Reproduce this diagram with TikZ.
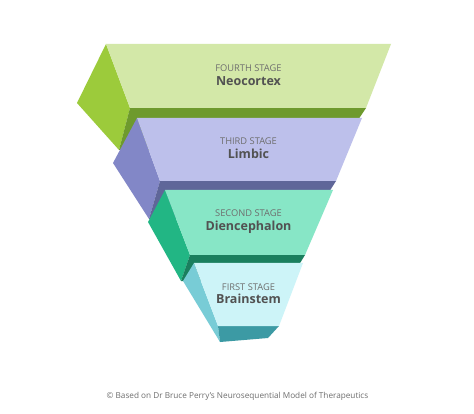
\documentclass[tikz,border=0pt]{standalone}
\usepackage{fontspec}
\setmainfont{Open Sans}
\definecolor{gFront}{HTML}{D3E8A8}
\definecolor{gSide}{HTML}{9CCB3B}
\definecolor{gBot}{HTML}{6E9A2D}
\definecolor{pFront}{HTML}{BDC0EB}
\definecolor{pSide}{HTML}{8287C7}
\definecolor{pBot}{HTML}{5F6699}
\definecolor{tFront}{HTML}{87E6C6}
\definecolor{tSide}{HTML}{22B684}
\definecolor{tBot}{HTML}{1A7F5E}
\definecolor{cFront}{HTML}{CDF4F8}
\definecolor{cSide}{HTML}{78CCD6}
\definecolor{cBot}{HTML}{3C9AA4}
\definecolor{lblGray}{HTML}{6E6E6E}
\definecolor{nameGray}{HTML}{525252}
\begin{document}
\begin{tikzpicture}[x=1pt,y=-1pt,
  stagelbl/.style={font=\fontsize{9.3}{11}\selectfont, text=lblGray, inner sep=0pt},
  stagename/.style={font=\bfseries\fontsize{12.5}{14}\selectfont, text=nameGray, inner sep=0pt},
  credit/.style={font=\fontsize{8.2}{9}\selectfont, text=lblGray, inner sep=0pt}]
\useasboundingbox (0,0) rectangle (474,414);
\fill[white] (0,0) rectangle (474,414);
% fourth stage (green)
\fill[gSide] (106,44) -- (77,103) -- (119,150) -- (130,108) -- cycle;
\fill[gBot] (130,108) -- (366,108) -- (338,150) -- (119,150) -- cycle;
\fill[gFront] (106,44) -- (391,44) -- (366,108) -- (130,108) -- cycle;
% third stage (purple)
\fill[pSide] (137,118) -- (113,163) -- (149,219) -- (160,181) -- cycle;
\fill[pBot] (160,181) -- (336,181) -- (312,219) -- (149,219) -- cycle;
\fill[pFront] (137,118) -- (362,118) -- (336,181) -- (160,181) -- cycle;
% second stage (teal)
\fill[tSide] (165,190) -- (148,222) -- (181,281) -- (190,255) -- cycle;
\fill[tBot] (190,255) -- (305,255) -- (289,281) -- (181,281) -- cycle;
\fill[tFront] (165,190) -- (333,190) -- (305,255) -- (190,255) -- cycle;
% first stage (cyan)
\fill[cSide] (194,263) -- (183,281) -- (220,342) -- (218,326) -- cycle;
\fill[cBot] (218,326) -- (279,326) -- (268,338) -- (220,342) -- cycle;
\fill[cFront] (194,263) -- (303,263) -- (279,326) -- (218,326) -- cycle;
% labels
\node[stagelbl]  (l4) at (248.5,68) {FOURTH STAGE};
\node[stagename] (n4) at (248.5,81) {Neocortex};
\node[stagelbl]  (l3) at (248.5,141) {THIRD STAGE};
\node[stagename] (n3) at (248.5,154) {Limbic};
\node[stagelbl]  (l2) at (248.5,213) {SECOND STAGE};
\node[stagename] (n2) at (248.5,227) {Diencephalon};
\node[stagelbl]  (l1) at (248.5,287) {FIRST STAGE};
\node[stagename] (n1) at (248.5,299) {Brainstem};
\node[credit] (cr) at (237.5,396) {© Based on Dr Bruce Perry’s Neurosequential Model of Therapeutics};
\end{tikzpicture}
\end{document}
